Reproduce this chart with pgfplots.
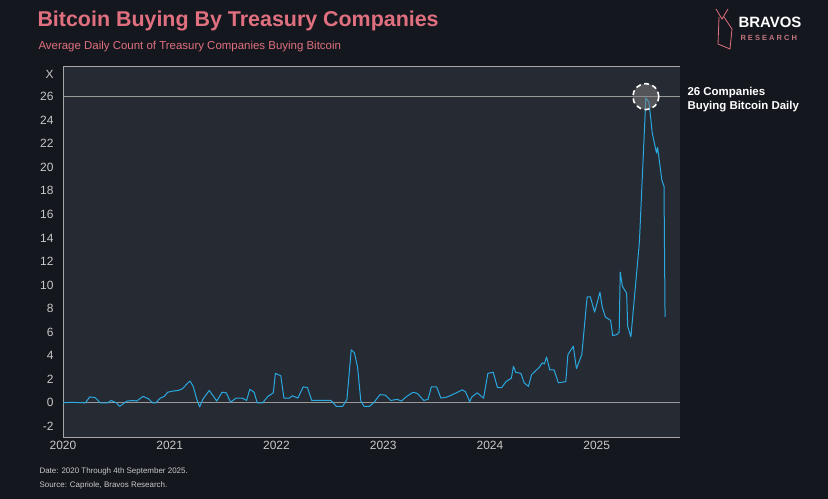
\documentclass[border=0pt]{standalone}
\usepackage{pgfplots}
\pgfplotsset{compat=1.18}
\usepackage{fontspec}
\setmainfont{Liberation Sans}
\definecolor{bg}{HTML}{14171D}
\definecolor{panel}{HTML}{262A33}
\definecolor{pink}{HTML}{E0707F}
\definecolor{line}{HTML}{2AA8E0}
\definecolor{tick}{HTML}{C8C8C8}
\begin{document}
\begin{tikzpicture}[x=1bp,y=1bp]
\fill[bg] (0,0) rectangle (828,499);
\node[anchor=west,text=pink,font=\bfseries\fontsize{21.5}{24}\selectfont] at (34,478) {Bitcoin Buying By Treasury Companies};
\node[anchor=west,text=pink,font=\fontsize{11.5}{13}\selectfont] at (35,452) {Average Daily Count of Treasury Companies Buying Bitcoin};
\node[anchor=west,text=white,font=\bfseries\fontsize{15}{17}\selectfont] at (735,477) {BRAVOS};
\node[anchor=west,text=pink!70!gray,font=\bfseries\fontsize{7.5}{9}\selectfont] at (737,461) {R E S E A R C H};
\draw[pink,line width=0.8bp] (716,490) -- (722,480) -- (728,490) (719,482) -- (718,455) -- (730,450) -- (732,470) -- (724,482);
\node[anchor=west,text=tick,font=\fontsize{8}{14}\selectfont,align=left] at (36,21) {Date: 2020 Through 4th September 2025.\\Source: Capriole, Bravos Research.};
\node[anchor=west,text=white,font=\bfseries\fontsize{11.5}{14}\selectfont,align=left] at (684,399) {26 Companies\\Buying Bitcoin Daily};
\begin{axis}[at={(63bp,62bp)},anchor=south west,scale only axis,width=617bp,height=371bp,
  xmin=2020,xmax=2025.78,ymin=-2.9,ymax=28.6,
  axis background/.style={fill=panel},
  axis line style={draw=gray!70,line width=0.6bp},
  axis x line*=bottom, axis y line*=left,
  xtick={2020,2021,2022,2023,2024,2025},
  xticklabels={2020,2021,2022,2023,2024,2025},
  ytick={-2,0,...,26,27.9},
  yticklabels={-2,0,2,4,6,8,10,12,14,16,18,20,22,24,26,X},
  major tick length=0pt,
  tick label style={text=tick,font=\fontsize{12}{14}\selectfont},
  /pgf/number format/assume math mode=true,
  xticklabel style={yshift=-1bp},
  yticklabel style={xshift=-6bp},
  clip=false]
\draw[gray!70,line width=0.6bp] (axis cs:2020,28.6) -- (axis cs:2025.78,28.6);
\draw[gray!80,line width=0.8bp] (axis cs:2020,0) -- (axis cs:2025.78,0);
\draw[gray!80,line width=0.8bp] (axis cs:2020,26) -- (axis cs:2025.78,26);
\addplot[line,line width=1bp,line join=round] coordinates {
(2020.00,0)(2020.07,0.05)(2020.21,0)(2020.25,0.5)(2020.30,0.45)(2020.35,0)(2020.42,0)(2020.45,0.2)(2020.50,0)(2020.53,-0.3)
(2020.60,0.15)(2020.66,0.2)(2020.69,0.15)(2020.75,0.55)(2020.80,0.35)(2020.84,0)(2020.87,0)(2020.91,0.4)(2020.95,0.55)(2020.98,0.9)
(2021.03,1.0)(2021.08,1.05)(2021.12,1.2)(2021.17,1.7)(2021.19,1.85)(2021.22,1.4)(2021.25,0.4)(2021.28,-0.35)(2021.31,0.3)(2021.37,1.05)
(2021.41,0.55)(2021.44,0.15)(2021.49,0.9)(2021.53,0.85)(2021.57,0.05)(2021.62,0.4)(2021.68,0.4)(2021.72,0.2)(2021.75,1.15)(2021.79,0.9)
(2021.82,0)(2021.87,0)(2021.92,0.55)(2021.97,0.85)(2021.99,2.5)(2022.04,2.3)(2022.07,0.4)(2022.12,0.4)(2022.15,0.6)(2022.20,0.4)
(2022.25,1.35)(2022.29,1.3)(2022.33,0.2)(2022.43,0.2)(2022.51,0.2)(2022.56,-0.3)(2022.62,-0.3)(2022.66,0.3)(2022.70,4.5)(2022.73,4.25)
(2022.76,3.0)(2022.79,0.15)(2022.82,-0.3)(2022.87,-0.3)(2022.91,0)(2022.97,0.7)(2023.02,0.65)(2023.07,0.2)(2023.13,0.3)(2023.17,0.15)
(2023.22,0.55)(2023.28,0.9)(2023.32,0.8)(2023.38,0.2)(2023.42,0.3)(2023.45,1.35)(2023.50,1.35)(2023.54,0.4)(2023.60,0.5)(2023.65,0.7)
(2023.74,1.1)(2023.77,0.95)(2023.81,0.1)(2023.83,0.5)(2023.88,0.85)(2023.94,0.4)(2023.98,2.5)(2024.03,2.6)(2024.07,1.3)(2024.11,1.3)
(2024.15,1.8)(2024.20,2.1)(2024.22,3.1)(2024.24,2.6)(2024.29,2.5)(2024.32,1.7)(2024.36,1.4)(2024.39,2.4)(2024.46,3.0)(2024.49,3.4)
(2024.51,3.3)(2024.53,3.9)(2024.56,2.8)(2024.60,2.8)(2024.64,1.7)(2024.71,1.8)(2024.73,4.1)(2024.78,4.8)(2024.81,2.9)(2024.86,4.1)
(2024.91,9.0)(2024.94,9.0)(2024.98,7.7)(2025.03,9.4)(2025.05,8.2)(2025.08,7.3)(2025.13,7.0)(2025.15,5.7)(2025.19,5.8)(2025.21,6.0)
(2025.22,11.1)(2025.24,9.9)(2025.28,9.3)(2025.29,6.5)(2025.32,5.6)(2025.40,13.7)(2025.46,25.9)(2025.49,25.5)(2025.52,22.9)(2025.56,21.2)
(2025.57,21.7)(2025.61,18.9)(2025.63,18.4)(2025.64,7.3)
};
\fill[gray,opacity=0.5] (axis cs:2025.46,26) circle[radius=13bp];
\draw[white,line width=1.6bp,dash pattern=on 5bp off 3.5bp] (axis cs:2025.46,26) circle[radius=13bp];
\end{axis}
\end{tikzpicture}
\end{document}
